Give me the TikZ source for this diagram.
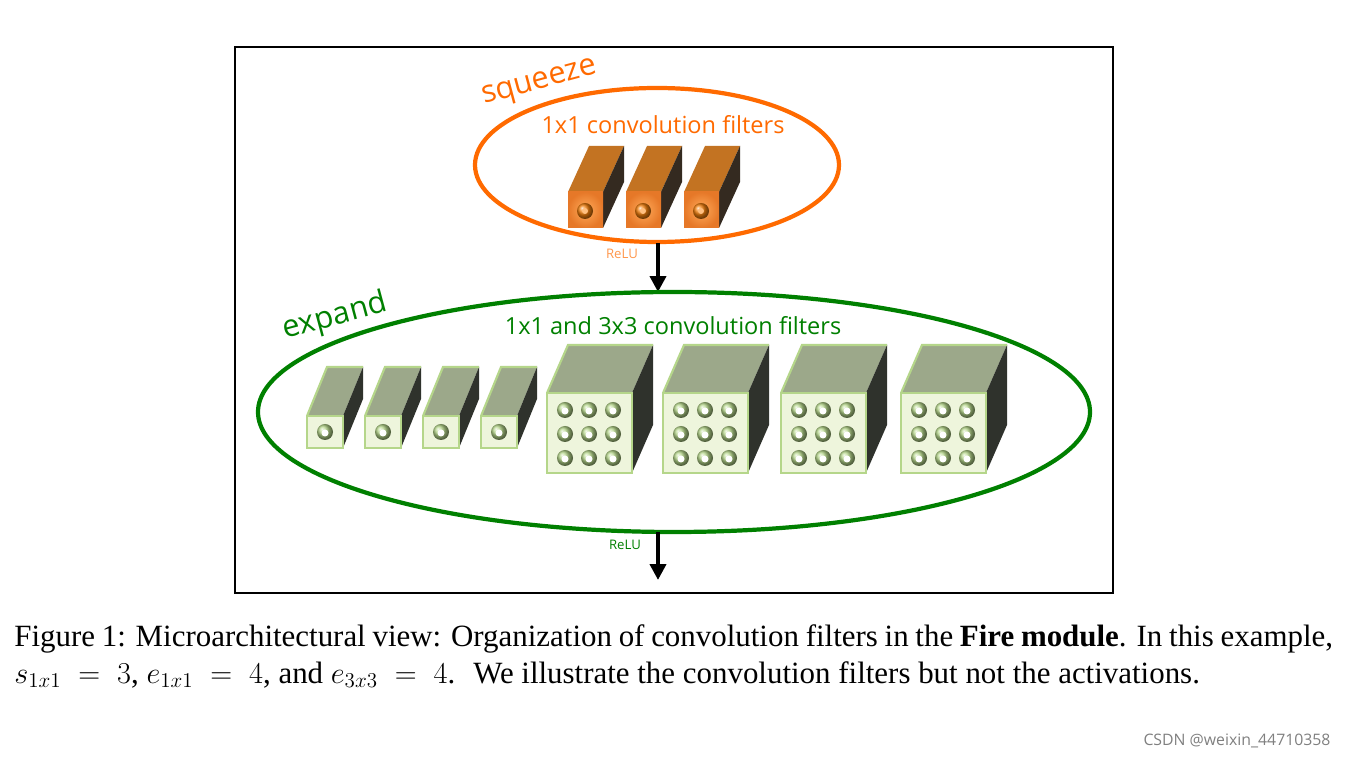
\documentclass[tikz,border=0pt]{standalone}
\usepackage{fontspec}
\setmainfont{Liberation Serif}
\newfontfamily\dsans{Open Sans}
\usetikzlibrary{arrows.meta,shapes.geometric}
\definecolor{sq}{HTML}{FF6A00}
\definecolor{ex}{HTML}{008000}
\begin{document}
\begin{tikzpicture}[x=0.02cm,y=-0.02cm,
  lab/.style={font=\dsans\fontsize{13.4}{15}\selectfont},
  flow/.style={line width=2.2pt,-{Triangle[length=9pt,width=9pt]}}]
\useasboundingbox (0,0) rectangle (1367,759);
\fill[white] (0,0) rectangle (1367,759);
\draw[line width=0.8pt] (235,47) rectangle (1113,593);
% squeeze
\node[draw=sq,line width=2.4pt,ellipse,inner sep=0pt,minimum width=364*0.02cm,minimum height=154*0.02cm] (sqE) at (657,165) {};
\node[rotate=15,text=sq,font=\dsans\fontsize{17.5}{19}\selectfont] (sqT) at (540,84) {squeeze};
\node[lab,text=sq] (sqL) at (663,125) {1x1 convolution filters};
% orange filters
\newcommand{\ocube}[1]{%
  \fill[brown!60!orange!90!black] (#1,192) -- ++(21,-46) -- ++(35,0) -- ++(-21,46) -- cycle;
  \fill[fill={rgb,255:red,52;green,42;blue,32}] (#1+35,192) -- ++(21,-46) -- ++(0,36) -- ++(-21,46) -- cycle;
  \shade[inner color={rgb,255:red,255;green,170;blue,90},outer color={rgb,255:red,230;green,120;blue,40}] (#1,192) rectangle (#1+35,228);
  \shade[ball color=orange!80!brown] (#1+17,211) circle (8);
  \fill[orange!50!white] (#1+17,211) circle (3);}
\foreach \x in {568,626,684}{\ocube{\x}}
\node[text=sq!70,font=\dsans\fontsize{7.5}{9}\selectfont] (r1) at (622,254) {ReLU};
\coordinate (a1s) at (658,243); \coordinate (a1e) at (658,292);
\draw[flow] (a1s) -- (a1e);
% expand
\node[draw=ex,line width=2.4pt,ellipse,inner sep=0pt,minimum width=832*0.02cm,minimum height=240*0.02cm] (exE) at (674,412) {};
\node[rotate=15,text=ex,font=\dsans\fontsize{17.5}{19}\selectfont] (exT) at (335,317) {expand};
\node[lab,text=ex] (exL) at (673,326) {1x1 and 3x3 convolution filters};
\definecolor{gtop}{HTML}{9CA88A}
\definecolor{gside}{HTML}{2F322C}
\definecolor{gface}{HTML}{EEF5DC}
\definecolor{gedge}{HTML}{B5D68A}
\newcommand{\gsmall}[1]{%
  \fill[gtop] (#1,416) -- ++(20,-49) -- ++(36,0) -- ++(-20,49) -- cycle;
  \fill[gside] (#1+36,416) -- ++(20,-49) -- ++(0,32) -- ++(-20,49) -- cycle;
  \draw[gedge,line width=1.2pt] (#1,416) -- ++(20,-49) -- ++(36,0);
  \draw[gedge,fill=gface,line width=1.5pt] (#1,416) rectangle (#1+36,448);
  \shade[ball color=gedge] (#1+18,432) circle (8);
  \fill[white] (#1+18,433) circle (3.5);}
\foreach \x in {307,365,423,481}{\gsmall{\x}}
\newcommand{\gbig}[1]{%
  \fill[gtop] (#1,393) -- ++(21,-48) -- ++(85,0) -- ++(-21,48) -- cycle;
  \fill[gside] (#1+85,393) -- ++(21,-48) -- ++(0,80) -- ++(-21,48) -- cycle;
  \draw[gedge,line width=1.2pt] (#1,393) -- ++(21,-48) -- ++(85,0);
  \draw[gedge,fill=gface,line width=1.5pt] (#1,393) rectangle (#1+85,473);
  \foreach \i in {0,1,2}{\foreach \j in {0,1,2}{
    \shade[ball color=gedge] (#1+18+24*\i,410+24*\j) circle (8);
    \fill[white] (#1+18+24*\i,411+24*\j) circle (3.5);}}}
\foreach \x in {547,663,781,901}{\gbig{\x}}
\node[text=ex,font=\dsans\fontsize{7.5}{9}\selectfont] (r2) at (625,545) {ReLU};
\coordinate (a2s) at (658,532); \coordinate (a2e) at (658,580);
\draw[flow] (a2s) -- (a2e);
% caption
\node[anchor=north west,inner sep=0pt,text width=26.38cm,align=justify,font=\fontsize{17.6}{21.2}\selectfont] (cap) at (14,624)
 {Figure 1: Microarchitectural view: Organization of convolution filters in the \textbf{Fire module}. In this example, $s_{1x1}\;=\;3$, $e_{1x1}\;=\;4$, and $e_{3x3}\;=\;4$. \ We illustrate the convolution filters but not the activations.};
\node[text=gray,font=\dsans\fontsize{9}{10}\selectfont] (wm) at (1237,741) {CSDN @weixin\_44710358};
\end{tikzpicture}
\end{document}
